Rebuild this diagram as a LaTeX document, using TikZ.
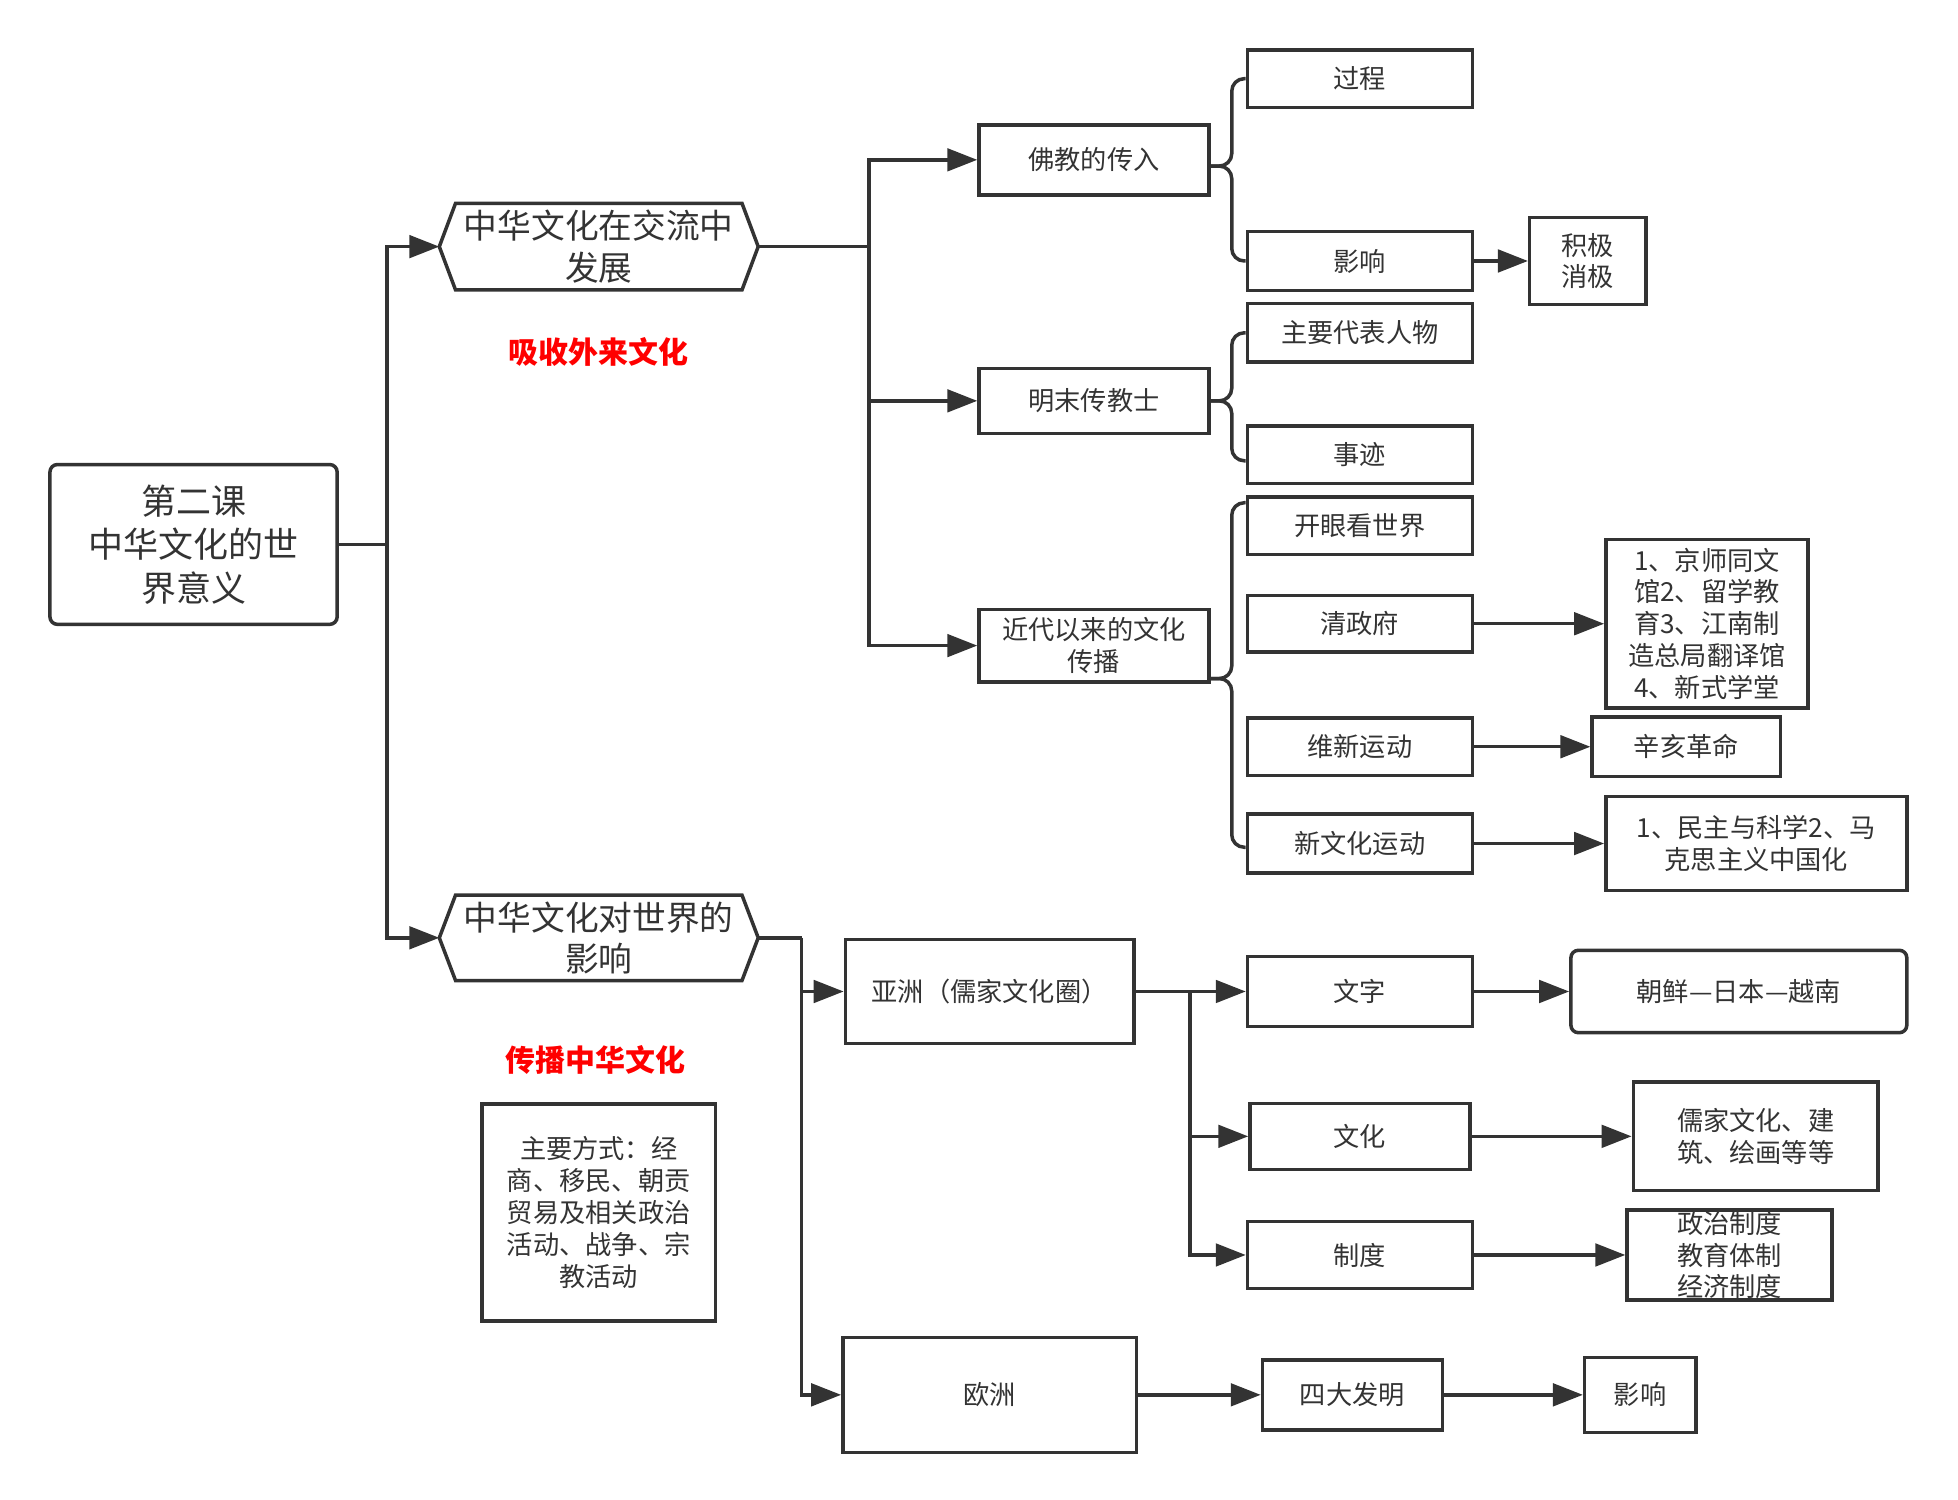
\documentclass[tikz,border=0pt]{standalone}
\usepackage{fontspec}
\setmainfont{Noto Sans CJK SC}
\usetikzlibrary{arrows.meta}
\definecolor{ink}{HTML}{333333}

\begin{document}
\begin{tikzpicture}[x=1pt,y=-1pt,>={Triangle[length=24pt,width=18pt]},
  box/.style={draw=ink,line width=2.8pt,inner sep=0pt,align=center,text=ink,
    font=\fontsize{21}{25.5}\selectfont},
  hexlabel/.style={inner sep=0pt,align=center,text=ink,minimum width=255pt,
    font=\fontsize{27}{33}\selectfont},
  hexline/.style={draw=ink,line width=2.8pt,line join=miter},
  link/.style={draw=ink,line width=2.8pt,->},
  brace/.style={draw=ink,line width=2.8pt,rounded corners=10pt},
  note/.style={text=red,font=\bfseries\fontsize{24}{28}\selectfont}]
  \useasboundingbox (0,0) rectangle (1568,1201);

  \node[box,rounded corners=6pt,minimum width=230pt,minimum height=128pt,
    font=\fontsize{28}{35}\selectfont] (root) at (155,436) {第二课\\中华文化的世\\界意义};

  \node[hexlabel,minimum height=69pt] (hexA) at (479.5,197.5) {中华文化在交流中\\发展};
  \node[hexlabel,minimum height=68pt] (hexB) at (479.5,751) {中华文化对世界的\\影响};
  \draw[hexline] (hexA.west) -- ([xshift=13pt]hexA.north west) -- ([xshift=-13pt]hexA.north east)
    -- (hexA.east) -- ([xshift=-13pt]hexA.south east) -- ([xshift=13pt]hexA.south west) -- cycle;
  \draw[hexline] (hexB.west) -- ([xshift=13pt]hexB.north west) -- ([xshift=-13pt]hexB.north east)
    -- (hexB.east) -- ([xshift=-13pt]hexB.south east) -- ([xshift=13pt]hexB.south west) -- cycle;

  \node[note] (xishou) at (479,282) {吸收外来文化};
  \node[note] (chuanbo) at (477,849) {传播中华文化};
  \node[box,minimum width=187pt,minimum height=174pt] (fangshi) at (479.5,971)
    {主要方式：经\\商、移民、朝贡\\贸易及相关政治\\活动、战争、宗\\教活动};

  \node[box,minimum width=184pt,minimum height=56pt] (fojiao) at (876,128) {佛教的传入};
  \node[box,minimum width=184pt,minimum height=52pt] (mingmo) at (876,321) {明末传教士};
  \node[box,minimum width=184pt,minimum height=58pt] (jindai) at (876,517) {近代以来的文化\\传播};

  \node[box,minimum width=180pt,minimum height=46pt] (guocheng) at (1089,63) {过程};
  \node[box,minimum width=180pt,minimum height=47pt] (yingxiangA) at (1089,209) {影响};
  \node[box,minimum width=93pt,minimum height=70pt] (jiji) at (1271.5,209) {积极\\消极};
  \node[box,minimum width=180pt,minimum height=47pt] (daibiao) at (1089,266.5) {主要代表人物};
  \node[box,minimum width=180pt,minimum height=46pt] (shiji) at (1089,364) {事迹};
  \node[box,minimum width=180pt,minimum height=46pt] (kaiyan) at (1089,421) {开眼看世界};
  \node[box,minimum width=180pt,minimum height=45pt] (qing) at (1089,499.5) {清政府};
  \node[box,minimum width=180pt,minimum height=46pt] (weixin) at (1089,598) {维新运动};
  \node[box,minimum width=180pt,minimum height=47pt] (xinwenhua) at (1089,675.5) {新文化运动};

  \node[box,minimum width=162pt,minimum height=135pt] (xuetang) at (1367,499.5)
    {1、京师同文\\馆2、留学教\\育3、江南制\\造总局翻译馆\\4、新式学堂};
  \node[box,minimum width=151pt,minimum height=48pt] (xinhai) at (1350.5,598) {辛亥革命};
  \node[box,minimum width=241pt,minimum height=75pt] (minzhu) at (1406.5,675.5)
    {1、民主与科学2、马\\克思主义中国化};

  \node[box,minimum width=231pt,minimum height=83pt] (yazhou) at (792.5,794) {亚洲（儒家文化圈）};
  \node[box,minimum width=235pt,minimum height=92pt] (ouzhou) at (792.5,1117) {欧洲};

  \node[box,minimum width=180pt,minimum height=56pt] (wenzi) at (1089,794) {文字};
  \node[box,minimum width=176pt,minimum height=53pt] (wenhua) at (1089,910) {文化};
  \node[box,minimum width=180pt,minimum height=54pt] (zhidu) at (1089,1005) {制度};
  \node[box,rounded corners=6pt,minimum width=269pt,minimum height=66pt] (chaoxian) at (1392.5,794)
    {朝鲜—日本—越南};
  \node[box,minimum width=196pt,minimum height=87pt] (rujia) at (1406,910) {儒家文化、建\\筑、绘画等等};
  \node[box,minimum width=164pt,minimum height=72pt] (zhengzhi) at (1385,1005)
    {\raisebox{-4pt}{\parbox{150pt}{\centering 政治制度\\教育体制\\经济制度}}};
  \node[box,minimum width=144pt,minimum height=56pt] (sida) at (1083,1117) {四大发明};
  \node[box,minimum width=89pt,minimum height=60pt] (yingxiangB) at (1313.5,1117) {影响};

  \coordinate (j1) at (310,436);
  \coordinate (j2) at (696,197.5);
  \coordinate (j3) at (642,751);
  \coordinate (j4) at (953,794);

  \draw[link,-] (root.east) -- (j1);
  \draw[link] (j1) |- (hexA.west);
  \draw[link] (j1) |- (hexB.west);
  \draw[link,-] (hexA.east) -- (j2);
  \draw[link] (j2) |- (fojiao.west);
  \draw[link] (j2) |- (mingmo.west);
  \draw[link] (j2) |- (jindai.west);

  \draw[brace] ([yshift=-5pt]fojiao.east) -- ++(17,0) |- (guocheng.west);
  \draw[brace] ([yshift=-5pt]fojiao.east) -- ++(17,0) |- (yingxiangA.west);
  \draw[brace] (mingmo.east) -- ++(17,0) |- (daibiao.west);
  \draw[brace] (mingmo.east) -- ++(17,0) |- ([yshift=-5pt]shiji.west);
  \draw[brace] ([yshift=4pt]jindai.south east) -- ++(17,0) |- ([yshift=-6pt]kaiyan.north west);
  \draw[brace] ([yshift=4pt]jindai.south east) -- ++(17,0) |- ([yshift=-3pt]xinwenhua.west);

  \draw[link] (yingxiangA) -- (jiji);
  \draw[link] (qing) -- (xuetang);
  \draw[link] (weixin) -- (xinhai);
  \draw[link] (xinwenhua) -- (minzhu);

  \draw[link,-] (hexB.east) -- (j3);
  \draw[link] (j3) |- (yazhou.west);
  \draw[link] (j3) |- (ouzhou.west);
  \draw[link] (yazhou) -- (wenzi);
  \draw[link] (j4) |- (wenhua.west);
  \draw[link] (j4) |- (zhidu.west);
  \draw[link] (wenzi) -- (chaoxian);
  \draw[link] (wenhua) -- (rujia);
  \draw[link] (zhidu) -- (zhengzhi);
  \draw[link] (ouzhou) -- (sida);
  \draw[link] (sida) -- (yingxiangB);
\end{tikzpicture}
\end{document}
